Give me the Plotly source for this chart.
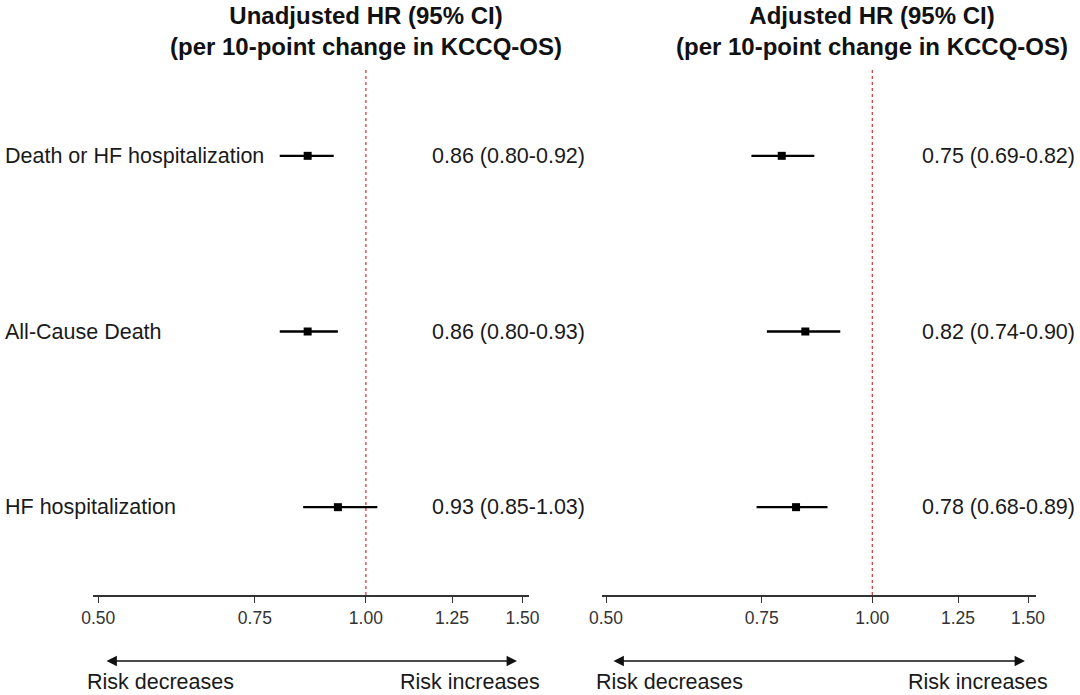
import math
import plotly.graph_objects as go

# ---------------- data ----------------
outcomes = ["Death or HF hospitalization", "All-Cause Death", "HF hospitalization"]

unadj_hr = [0.86, 0.86, 0.93]
unadj_lo = [0.80, 0.80, 0.85]
unadj_hi = [0.92, 0.93, 1.03]
unadj_text = ["0.86 (0.80-0.92)", "0.86 (0.80-0.93)", "0.93 (0.85-1.03)"]

# adjusted marks as they are drawn in the reference
adj_hr = [0.79, 0.84, 0.82]
adj_lo = [0.73, 0.76, 0.74]
adj_hi = [0.86, 0.92, 0.89]
adj_text = ["0.75 (0.69-0.82)", "0.82 (0.74-0.90)", "0.78 (0.68-0.89)"]

panel_titles = ["Unadjusted HR (95% CI)", "Adjusted HR (95% CI)"]
panel_subtitle = "(per 10-point change in KCCQ-OS)"

tick_vals = [0.50, 0.75, 1.00, 1.25, 1.50]
tick_text = ["0.50", "0.75", "1.00", "1.25", "1.50"]
ref_value = 1.0

# ---------------- layout constants ----------------
W, H = 1080, 695
FONT = "Liberation Sans, Arial, sans-serif"
TXT = "#1a1a1a"
y_pos = [len(outcomes) - i for i in range(len(outcomes))]

fig = go.Figure()

panels = [
    dict(hr=unadj_hr, lo=unadj_lo, hi=unadj_hi, text=unadj_text, xa="x", ya="y",
         title=panel_titles[0], text_x=430, arrow=(105, 517), dec_x=85, inc_x=542),
    dict(hr=adj_hr, lo=adj_lo, hi=adj_hi, text=adj_text, xa="x2", ya="y2",
         title=panel_titles[1], text_x=920, arrow=(612, 1025), dec_x=594, inc_x=1050),
]

annotations = []
for p in panels:
    # reference line at HR = 1
    fig.add_trace(go.Scatter(
        x=[ref_value, ref_value], y=[0.5, 3.5], mode="lines",
        line=dict(color="#d42f26", width=1.2, dash="3px,3px"),
        xaxis=p["xa"], yaxis=p["ya"], showlegend=False, hoverinfo="skip"))
    # point estimates with CIs
    fig.add_trace(go.Scatter(
        x=p["hr"], y=y_pos, mode="markers",
        marker=dict(symbol="square", size=8, color="black"),
        error_x=dict(type="data", symmetric=False,
                     array=[h - m for h, m in zip(p["hi"], p["hr"])],
                     arrayminus=[m - l for m, l in zip(p["hr"], p["lo"])],
                     color="black", thickness=2.3, width=0),
        xaxis=p["xa"], yaxis=p["ya"], showlegend=False))
    # panel titles (centered on HR = 1)
    annotations.append(dict(
        x=math.log10(ref_value), xref=p["xa"], y=1.0, yref="paper",
        yanchor="top", xanchor="center", showarrow=False,
        text=f"<b>{p['title']}</b><br><b>{panel_subtitle}</b>",
        font=dict(family=FONT, size=24, color="#111")))
    # HR text
    for yy, t in zip(y_pos, p["text"]):
        annotations.append(dict(
            x=p["text_x"] / W, xref="paper", y=yy, yref=p["ya"],
            xanchor="left", yanchor="middle", showarrow=False, text=t,
            font=dict(family=FONT, size=21.5, color=TXT)))
    # double-headed arrow
    x0, x1 = p["arrow"]
    annotations.append(dict(
        x=x1 / W, xref="paper", y=1 - 661 / H, yref="paper",
        ax=-(x1 - x0), ay=0, axref="pixel", ayref="pixel",
        showarrow=True, arrowhead=2, arrowside="end+start", arrowsize=1.3,
        arrowwidth=1.6, arrowcolor="#111", text=""))
    annotations.append(dict(
        x=p["dec_x"] / W, xref="paper", y=1 - 682 / H, yref="paper",
        xanchor="left", yanchor="middle", showarrow=False, text="Risk decreases",
        font=dict(family=FONT, size=21.5, color=TXT)))
    annotations.append(dict(
        x=p["inc_x"] / W, xref="paper", y=1 - 682 / H, yref="paper",
        xanchor="right", yanchor="middle", showarrow=False, text="Risk increases",
        font=dict(family=FONT, size=21.5, color=TXT)))

# outcome labels
for yy, name in zip(y_pos, outcomes):
    annotations.append(dict(
        x=3 / W, xref="paper", y=yy, yref="y", xanchor="left", yanchor="middle",
        showarrow=False, text=name, font=dict(family=FONT, size=21.5, color=TXT)))

xaxis_common = dict(
    type="log", tickvals=tick_vals, ticktext=tick_text, ticks="outside",
    ticklen=6, tickwidth=1.3, tickcolor="#333", showline=True, linecolor="#333",
    linewidth=1.5, showgrid=False, zeroline=False,
    tickfont=dict(family=FONT, size=17.5, color="#333"))

y_dom = [1 - 595 / H, 1 - 68 / H]
yaxis_common = dict(range=[0.5, 3.5], visible=False, showgrid=False, zeroline=False)

fig.update_layout(
    width=W, height=H,
    margin=dict(l=0, r=0, t=0, b=0, pad=0, autoexpand=False),
    paper_bgcolor="white", plot_bgcolor="white",
    xaxis=dict(xaxis_common, domain=[93 / W, 529 / W],
               range=[-0.30696, 0.18345], anchor="y"),
    xaxis2=dict(xaxis_common, domain=[602 / W, 1036 / W],
                range=[-0.30555, 0.18506], anchor="y2"),
    yaxis=dict(yaxis_common, domain=y_dom, anchor="x"),
    yaxis2=dict(yaxis_common, domain=y_dom, anchor="x2"),
    annotations=annotations,
    showlegend=False,
)

fig.write_html(
    "out.html",
    config={"displayModeBar": False},
    post_script="document.body.style.margin='0';document.body.style.overflow='hidden';",
)
